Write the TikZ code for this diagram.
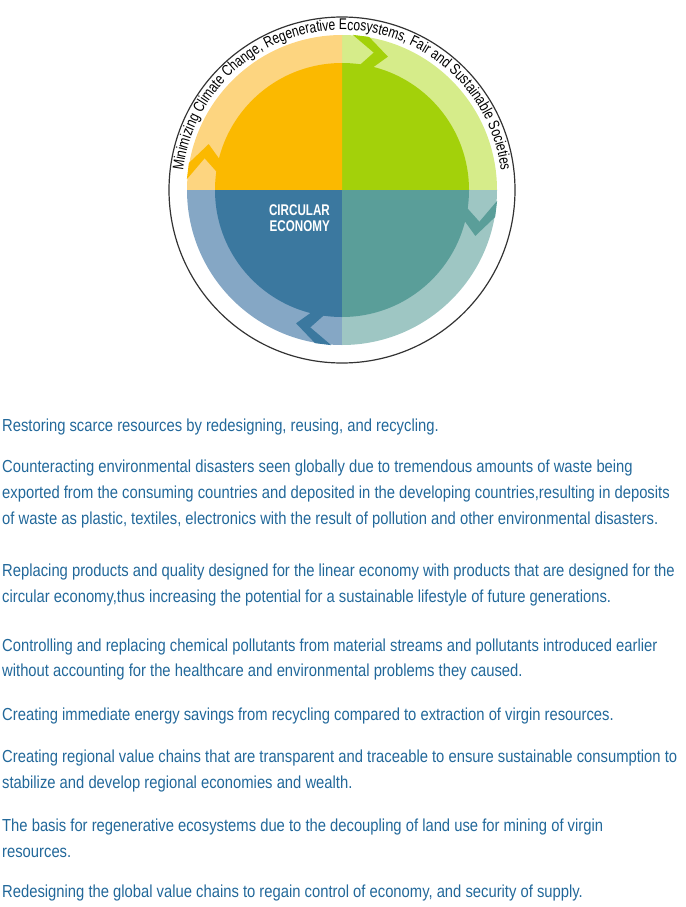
\documentclass[tikz,border=0pt]{standalone}
\usepackage{fontspec}
\setmainfont{Liberation Sans}[FakeStretch=0.85]
\newfontfamily\condf{Liberation Sans}[FakeStretch=0.78]
\newfontfamily\condb{Liberation Sans}[FakeStretch=0.75]
\usetikzlibrary{decorations.text}
\definecolor{orD}{HTML}{FBB900}\definecolor{orL}{HTML}{FDD580}
\definecolor{grD}{HTML}{A3D10A}\definecolor{grL}{HTML}{D6EC8A}
\definecolor{teD}{HTML}{5A9E99}\definecolor{teL}{HTML}{9EC6C3}
\definecolor{blD}{HTML}{3B789F}\definecolor{blL}{HTML}{85A7C5}
\definecolor{txt}{HTML}{22689A}
\begin{document}
\begin{tikzpicture}[x=1pt,y=-1pt,
  para/.style={anchor=west,inner sep=0pt,text=txt,font=\fontsize{17.4}{20}\selectfont}]
\useasboundingbox (0,0) rectangle (685,907);
\coordinate (c) at (342,190);
\draw[line width=1.2pt,black!80] (c) circle[radius=173];
\begin{scope}[shift={(c)},y=1pt]
\fill[grL] (0,0) -- (0:155) arc[start angle=0,end angle=90,radius=155] -- cycle;
\fill[orL] (0,0) -- (90:155) arc[start angle=90,end angle=180,radius=155] -- cycle;
\fill[blL] (0,0) -- (180:155) arc[start angle=180,end angle=270,radius=155] -- cycle;
\fill[teL] (0,0) -- (270:155) arc[start angle=270,end angle=360,radius=155] -- cycle;
\fill[grD] (0,0) -- (0:127) arc[start angle=0,end angle=90,radius=127] -- cycle;
\fill[orD] (0,0) -- (90:127) arc[start angle=90,end angle=180,radius=127] -- cycle;
\fill[blD] (0,0) -- (180:127) arc[start angle=180,end angle=270,radius=127] -- cycle;
\fill[teD] (0,0) -- (270:127) arc[start angle=270,end angle=360,radius=127] -- cycle;
\foreach \t/\col in {80/grD,170/orD,260/blD,350/teD}{
  \fill[\col] (\t:155.5) -- (\t-9:141) -- (\t-4:126) -- (\t+2:126) -- (\t-3:141) -- (\t+6:155.5) -- cycle;
}
\path[decorate,decoration={text along path,text align=center,
  text={|\condf\fontsize{15.5}{16}\selectfont|Minimizing Climate Change, Regenerative Ecosystems, Fair and Sustainable Societies}}]
  (188:160) arc[start angle=188,end angle=-8,radius=160];
\end{scope}
\node[anchor=east,align=right,text=white,inner sep=0pt,font=\condb\bfseries\fontsize{15.5}{16.5}\selectfont] (ce) at (330,218) {CIRCULAR\\ECONOMY};
\node[para] (p1) at (2,427) {Restoring scarce resources by redesigning, reusing, and recycling.};
\node[para] (p2a) at (2,468) {Counteracting environmental disasters seen globally due to tremendous amounts of waste being};
\node[para] (p2b) at (2,494) {exported from the consuming countries and deposited in the developing countries,resulting in deposits};
\node[para] (p2c) at (2,520) {of waste as plastic, textiles, electronics with the result of pollution and other environmental disasters.};
\node[para] (p3a) at (2,572) {Replacing products and quality designed for the linear economy with products that are designed for the};
\node[para] (p3b) at (2,598) {circular economy,thus increasing the potential for a sustainable lifestyle of future generations.};
\node[para] (p4a) at (2,647) {Controlling and replacing chemical pollutants from material streams and pollutants introduced earlier};
\node[para] (p4b) at (2,672) {without accounting for the healthcare and environmental problems they caused.};
\node[para] (p5) at (2,716) {Creating immediate energy savings from recycling compared to extraction of virgin resources.};
\node[para] (p6a) at (2,758) {Creating regional value chains that are transparent and traceable to ensure sustainable consumption to};
\node[para] (p6b) at (2,784) {stabilize and develop regional economies and wealth.};
\node[para] (p7a) at (2,827) {The basis for regenerative ecosystems due to the decoupling of land use for mining of virgin};
\node[para] (p7b) at (2,853) {resources.};
\node[para] (p8) at (2,893) {Redesigning the global value chains to regain control of economy, and security of supply.};
\end{tikzpicture}
\end{document}
